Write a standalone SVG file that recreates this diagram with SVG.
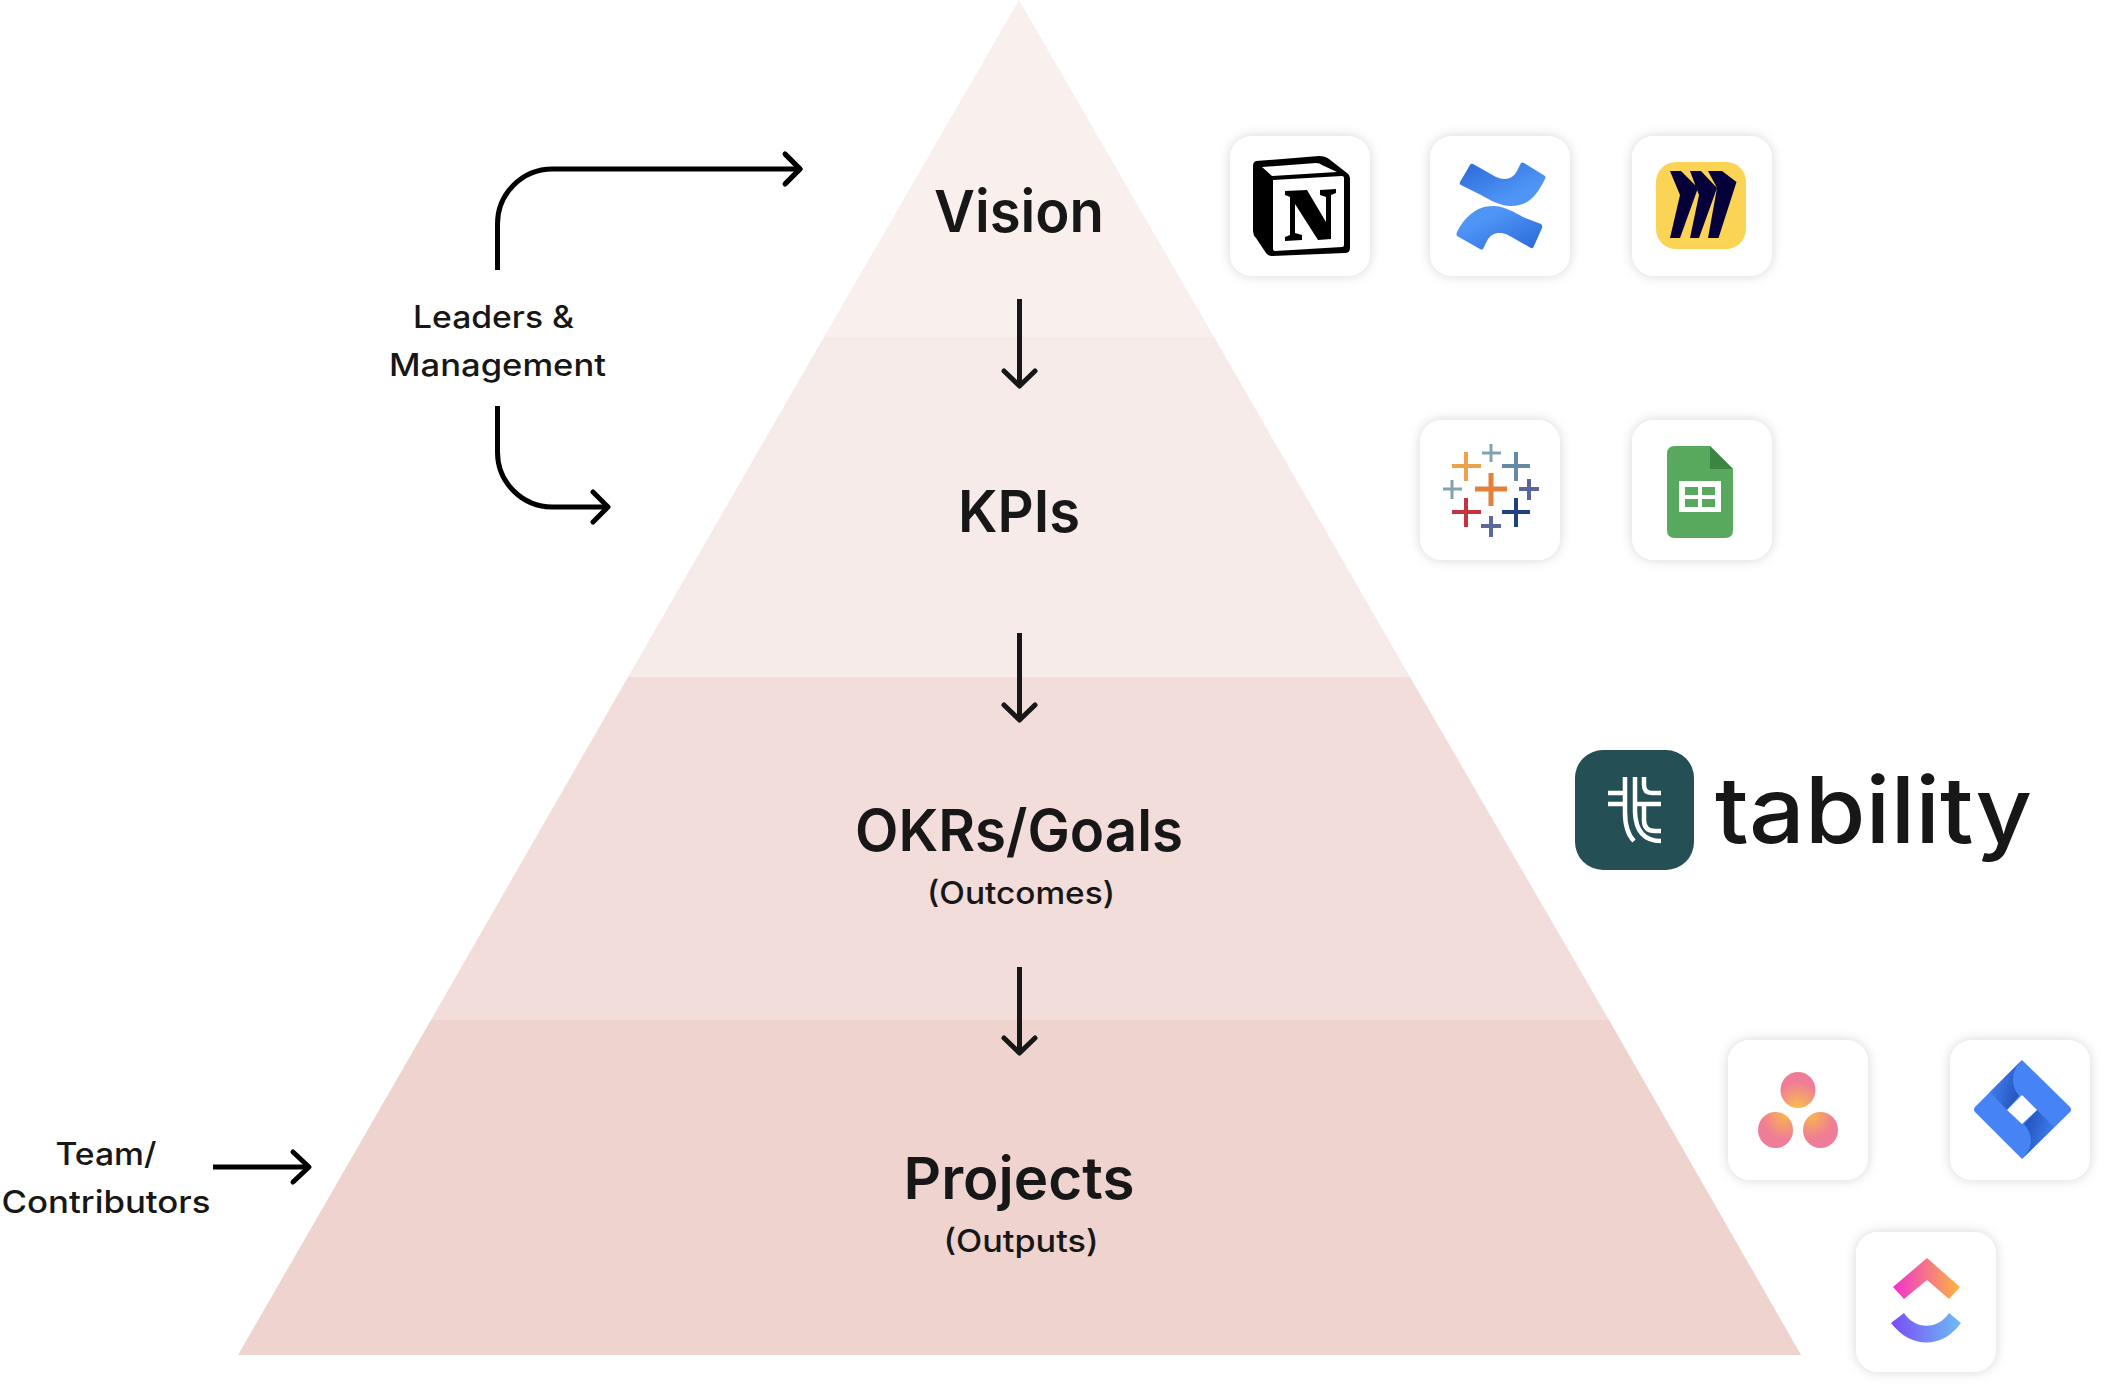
<svg xmlns="http://www.w3.org/2000/svg" width="2108" height="1390" viewBox="0 0 2108 1390">
<defs>
<style>
.t{font-family:"Inter","Liberation Sans",sans-serif;fill:#171717;text-anchor:middle}
.h{font-size:58px;font-weight:600}
.s{font-size:31px;font-weight:550}
.l{font-size:31px;font-weight:550}
.c{fill:none;stroke:#000;stroke-width:5;stroke-linejoin:round;stroke-linecap:round}
.d{stroke:#171717}
.card{fill:#fff;filter:url(#sh)}
</style>
<filter id="sh" x="-25%" y="-25%" width="150%" height="150%"><feDropShadow dx="0" dy="0" stdDeviation="6" flood-color="#000" flood-opacity=".16"/></filter>
<linearGradient id="cf1" x1="0" y1="0" x2="1" y2="1"><stop offset="0" stop-color="#2a68d8"/><stop offset=".7" stop-color="#4f95f6"/></linearGradient>
<linearGradient id="cf2" x1="1" y1="1" x2="0" y2="0"><stop offset="0" stop-color="#2a68d8"/><stop offset=".7" stop-color="#4f95f6"/></linearGradient>
<radialGradient id="as" cx=".5" cy="1" r=".9"><stop offset="0" stop-color="#fbc04a"/><stop offset=".8" stop-color="#ef7d97"/></radialGradient>
<radialGradient id="as2" cx=".75" cy=".1" r=".95"><stop offset="0" stop-color="#f9b24e"/><stop offset=".7" stop-color="#ef7d97"/></radialGradient>
<radialGradient id="as3" cx=".25" cy=".1" r=".95"><stop offset="0" stop-color="#f9b24e"/><stop offset=".7" stop-color="#ef7d97"/></radialGradient>
<linearGradient id="j1" x1="1" y1=".75" x2="0" y2=".25"><stop offset="0" stop-color="#4683f5"/><stop offset="1" stop-color="#1f50b8"/></linearGradient>
<linearGradient id="j2" x1="0" y1=".25" x2="1" y2=".75"><stop offset="0" stop-color="#4683f5"/><stop offset="1" stop-color="#1f50b8"/></linearGradient>
<linearGradient id="cu1" x1="0" y1="0" x2="1" y2="0"><stop offset="0" stop-color="#f032d0"/><stop offset="1" stop-color="#fbb63f"/></linearGradient>
<linearGradient id="cu2" x1="0" y1="0" x2="1" y2="0"><stop offset="0" stop-color="#7a4bf4"/><stop offset="1" stop-color="#6cbdf6"/></linearGradient>
</defs>
<rect width="2108" height="1390" fill="#fff"/>
<g id="pyramid">
<polygon id="band-vision" points="1019,0 1214,337 824,337" fill="#f9f0ee"/>
<polygon id="band-kpis" points="824,337 1214,337 1410,677 628,677" fill="#f6ebe8"/>
<polygon id="band-okrs" points="628,677 1410,677 1609,1020 431,1020" fill="#f2dddb"/>
<polygon id="band-projects" points="431,1020 1609,1020 1801,1355 238,1355" fill="#eed3cf"/>
</g>
<g id="connectors">
<path class="c" d="M497.500 270V225A55 55 0 0 1 552.500 169H800M785 154L800 169L785 184" style="stroke-linecap:butt"/>
<path class="c" d="M785 154L800 169L785 184"/>
<path class="c" d="M497.500 406V452A55 55 0 0 0 552.500 507H607" style="stroke-linecap:butt"/>
<path class="c" d="M593 492L608 507L593 522"/>
<path class="c" d="M213 1167H307" style="stroke-linecap:butt"/>
<path class="c" d="M293 1152L309 1167L293 1182"/>
<path class="c d" d="M1019.500 299V385" style="stroke-linecap:butt"/>
<path class="c d" d="M1004 371L1019.500 386L1035 371"/>
<path class="c d" d="M1019.500 633V719" style="stroke-linecap:butt"/>
<path class="c d" d="M1004 705L1019.500 720L1035 705"/>
<path class="c d" d="M1019.500 967V1052" style="stroke-linecap:butt"/>
<path class="c d" d="M1004 1038L1019.500 1053L1035 1038"/>
</g>
<g id="node-vision"><text class="t h" x="1019" y="232" textLength="170" lengthAdjust="spacingAndGlyphs">Vision</text></g>
<g id="node-kpis"><text class="t h" x="1019" y="532" textLength="122" lengthAdjust="spacingAndGlyphs">KPIs</text></g>
<g id="node-okrs"><text class="t h" x="1019" y="851" textLength="328" lengthAdjust="spacingAndGlyphs">OKRs/Goals</text><text class="t s" x="1021" y="904" textLength="188" lengthAdjust="spacingAndGlyphs">(Outcomes)</text></g>
<g id="node-projects"><text class="t h" x="1019" y="1199" textLength="231" lengthAdjust="spacingAndGlyphs">Projects</text><text class="t s" x="1021" y="1252" textLength="155" lengthAdjust="spacingAndGlyphs">(Outputs)</text></g>
<g id="node-leaders"><text class="t l" x="493.500" y="328" textLength="161" lengthAdjust="spacingAndGlyphs">Leaders &amp;</text><text class="t l" x="497.500" y="376" textLength="217" lengthAdjust="spacingAndGlyphs">Management</text></g>
<g id="node-team"><text class="t l" x="106" y="1165" textLength="101" lengthAdjust="spacingAndGlyphs">Team/</text><text class="t l" x="106" y="1213" textLength="209" lengthAdjust="spacingAndGlyphs">Contributors</text></g>
<g id="node-notion"><rect class="card" x="1230" y="136" width="140" height="140" rx="22"/>
<path d="M1256 161L1319 156Q1325 156 1329 159L1347 173Q1350 175 1350 178V248Q1350 253 1345 253L1272 256Q1268 256 1266 253L1256 238Q1253 235 1253 230V166Q1253 162 1256 161Z" fill="#000"/>
<path d="M1262 167L1316 163Q1320 163 1322 165L1337 172L1272 176Z" fill="#fff"/>
<path d="M1273 180L1342 176Q1344 176 1344 178V245Q1344 247 1342 247L1275 251Q1273 251 1273 249Z" fill="#fff"/>
<path d="M1285 191L1307 190L1326 222V197L1320 195V190L1336 189V193L1331 195V239L1318 240L1295 204V233L1302 235V240L1285 241V237L1290 235V197L1285 195Z" fill="#000"/></g>
<g id="node-confluence"><rect class="card" x="1430" y="136" width="140" height="140" rx="22"/>
<path d="M1473 164L1496 177C1505 181 1513 179 1517 171L1521 163Q1522 162 1524 163L1545 176Q1546 178 1545 179C1537 195 1529 206 1511 206C1500 206 1490 200 1481 195L1461 185Q1459 184 1460 182L1470 165Q1471 163 1473 164Z" fill="url(#cf1)"/>
<path d="M1531 248L1508 235C1499 231 1491 233 1487 241L1483 249Q1482 250 1480 249L1457 236Q1456 234 1457 232C1465 217 1476 206 1493 206C1504 206 1514 212 1523 217L1541 224Q1543 226 1542 228L1534 246Q1533 249 1531 248Z" fill="url(#cf2)"/></g>
<g id="node-miro"><rect class="card" x="1632" y="136" width="140" height="140" rx="22"/>
<rect x="1656" y="162" width="90" height="87" rx="20" fill="#fbd455"/>
<path d="M1670 171H1681L1698 188L1680 238H1670L1680 195ZM1690 171H1701L1717 188L1699 238H1690L1699 195ZM1708 171H1722L1736.500 182L1718.500 238H1708L1717 188Z" fill="#05003a"/></g>
<g id="node-tableau"><rect class="card" x="1420" y="420" width="140" height="140" rx="22"/>
<g fill="none" stroke-width="4">
<path d="M1466 452V481M1452 466H1481" stroke="#eca14c"/>
<path d="M1491 444V462M1482 453H1501" stroke="#80a3b3" stroke-width="3"/>
<path d="M1516 452V481M1502 466H1530" stroke="#648ba3"/>
<path d="M1452 480V499M1443 489H1462" stroke="#80a3b3" stroke-width="3"/>
<path d="M1491 473V506M1475 489H1507" stroke="#e3803c" stroke-width="5"/>
<path d="M1529 479V500M1519 489H1539" stroke="#5d6499"/>
<path d="M1466 498V527M1452 512H1481" stroke="#c5333f"/>
<path d="M1516 498V527M1502 512H1530" stroke="#20417f"/>
<path d="M1491 516V537M1481 526H1501" stroke="#5a6a9a"/>
</g></g>
<g id="node-sheets"><rect class="card" x="1632" y="420" width="140" height="140" rx="22"/>
<path d="M1675 446H1710L1733 469V530Q1733 538 1725 538H1675Q1667 538 1667 530V454Q1667 446 1675 446Z" fill="#58a85e"/>
<path d="M1710 446L1733 469H1710Z" fill="#3b8443"/>
<path d="M1679 481H1721V512H1679ZM1685 487V495H1698V487ZM1702 487V495H1715V487ZM1685 499V507H1698V499ZM1702 499V507H1715V499Z" fill="#fff" fill-rule="evenodd"/></g>
<g id="node-tability">
<rect x="1575" y="750" width="119" height="120" rx="28" fill="#244f55"/>
<g fill="none" stroke="#fff" stroke-width="4.500">
<path d="M1608 793H1623M1608 804H1623"/>
<path d="M1625 777V812Q1625 832 1634 841"/>
<path d="M1635 777V812Q1636 841 1661 841"/>
<path d="M1644 777V785Q1644 793 1652 793H1661"/>
<path d="M1637 804H1661"/>
<path d="M1644 806V820Q1644 831 1655 831H1661"/>
</g>
<text x="1715" y="843" font-family="Inter,'Liberation Sans',sans-serif" font-size="92" font-weight="500" fill="#171717" textLength="317" lengthAdjust="spacingAndGlyphs">tability</text></g>
<g id="node-asana"><rect class="card" x="1728" y="1040" width="140" height="140" rx="22"/>
<ellipse cx="1798" cy="1090" rx="17.500" ry="18" fill="url(#as)"/>
<ellipse cx="1775.500" cy="1130" rx="17.500" ry="18" fill="url(#as2)"/>
<ellipse cx="1820.500" cy="1130" rx="17.500" ry="18" fill="url(#as3)"/></g>
<g id="node-jira"><rect class="card" x="1950" y="1040" width="140" height="140" rx="22"/>
<path d="M2022 1060L2070 1107Q2072 1110 2070 1112L2022 1159L1975 1112Q1973 1110 1975 1107Z" fill="#4683f5"/>
<path d="M2022 1060L1990 1092L2007 1110L2019 1096C2010 1085 2011 1071 2022 1060Z" fill="url(#j2)"/>
<path d="M2022 1159L2054 1127L2037 1110L2024 1124C2034 1135 2033 1148 2022 1159Z" fill="url(#j1)"/>
<path d="M2022 1095L2037 1110L2022 1124L2007 1110Z" fill="#fff"/></g>
<g id="node-clickup"><rect class="card" x="1856" y="1232" width="140" height="140" rx="22"/>
<path d="M1927 1258L1960 1287L1949 1299L1927 1280L1904 1299L1893 1287Z" fill="url(#cu1)"/>
<path d="M1904 1313C1915 1330 1938 1330 1949 1313L1961 1323C1942 1349 1911 1349 1891 1323Z" fill="url(#cu2)"/></g>
</svg>
